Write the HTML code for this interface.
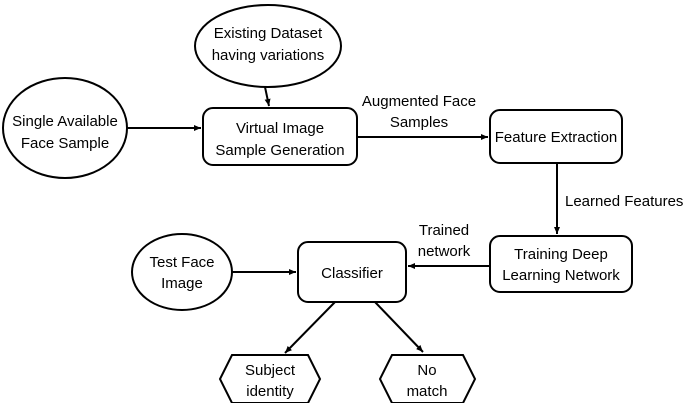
<!DOCTYPE html>
<html><head><style>body{margin:0;background:#fff}text{font-family:"Liberation Sans",sans-serif;font-size:15px;fill:#000}</style></head>
<body>
<svg width="685" height="403" viewBox="0 0 685 403" xmlns="http://www.w3.org/2000/svg">
<defs><marker id="a" markerWidth="8" markerHeight="8" refX="7" refY="4" orient="auto" markerUnits="userSpaceOnUse"><path d="M0,1 L7,4 L0,7z" fill="#000"/></marker></defs>
<g fill="none" stroke="#000" stroke-width="2">
<ellipse cx="268" cy="46" rx="73" ry="41"/>
<ellipse cx="65" cy="128" rx="62" ry="50"/>
<rect x="203" y="108" width="154" height="57" rx="10"/>
<rect x="490" y="110" width="132" height="53" rx="10"/>
<rect x="490" y="236" width="142" height="56" rx="10"/>
<rect x="298" y="242" width="108" height="60" rx="10"/>
<ellipse cx="182" cy="272" rx="50" ry="38"/>
<path d="M232,355 L308,355 L320,379 L308,403 L232,403 L220,379Z"/>
<path d="M392,355 L463,355 L475,379 L463,403 L392,403 L380,379Z"/>
</g>
<g stroke="#000" stroke-width="2" marker-end="url(#a)">
<line x1="265" y1="87" x2="269" y2="106"/>
<line x1="127" y1="128" x2="201" y2="128"/>
<line x1="357" y1="137" x2="488" y2="137"/>
<line x1="557" y1="163" x2="557" y2="234"/>
<line x1="490" y1="266" x2="408" y2="266"/>
<line x1="232" y1="272" x2="296" y2="272"/>
<line x1="335" y1="302" x2="285" y2="353"/>
<line x1="375" y1="302" x2="423" y2="352"/>
</g>
<g text-anchor="middle">
<text x="268" y="38">Existing Dataset</text><text x="268" y="60">having variations</text>
<text x="65" y="126">Single Available</text><text x="65" y="148">Face Sample</text>
<text x="280" y="133">Virtual Image</text><text x="280" y="155">Sample Generation</text>
<text x="556" y="142">Feature Extraction</text>
<text x="561" y="259">Training Deep</text><text x="561" y="280">Learning Network</text>
<text x="352" y="278">Classifier</text>
<text x="182" y="267">Test Face</text><text x="182" y="288">Image</text>
<text x="270" y="375">Subject</text><text x="270" y="396">identity</text>
<text x="427" y="375">No</text><text x="427" y="396">match</text>
<text x="419" y="106">Augmented Face</text><text x="419" y="127">Samples</text>
<text x="444" y="235">Trained</text><text x="444" y="256">network</text>
</g>
<text x="565" y="206">Learned Features</text>
</svg>
</body></html>
